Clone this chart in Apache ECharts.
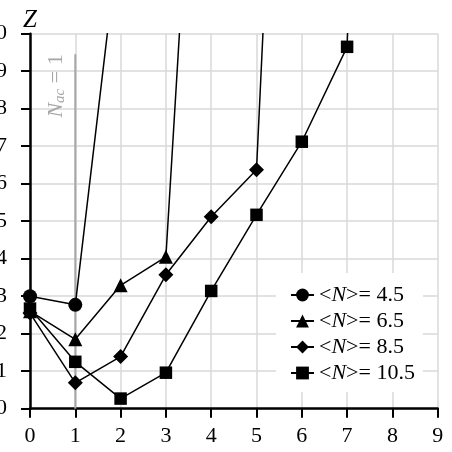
<!DOCTYPE html>
<html>
<head>
<meta charset="utf-8">
<script src="https://cdn.jsdelivr.net/npm/echarts@6/dist/echarts.min.js"></script>
<style>html,body{margin:0;padding:0;background:#fff}#c{width:452px;height:452px}</style>
</head>
<body>
<div id="c"></div>
<script>
// ---- data ----
const xTicks = [0,1,2,3,4,5,6,7,8,9];
const yTicks = [0,1,2,3,4,5,6,7,8,9,10];
const nLabels = ['4.5','6.5','8.5','10.5'];
const x45 = [0,1,2];
const z45 = [3.0, 2.77, 13.0];
const x65 = [0,1,2,3,4];
const z65 = [2.6, 1.85, 3.29, 4.05, 24];
const x85 = [0,1,2,3,4,5,6];
const z85 = [2.55, 0.69, 1.39, 3.57, 5.12, 6.37, 32];
const x105 = [0,1,2,3,4,5,6,7,8];
const z105 = [2.67, 1.25, 0.27, 0.96, 3.14, 5.17, 7.12, 9.65, 45];
const nacX = 1;
const nacTop = 9.45;

const FONT = "'Liberation Serif','Times New Roman',serif";
const pair = (xs, ys) => xs.map((x,i)=>[x, ys[i]]);
const names = nLabels.map(v => '<N>= ' + v);
const symbols = ['circle','triangle','diamond','rect'];
const symSizes = [14,14,15,12.5];
const sets = [[x45,z45],[x65,z65],[x85,z85],[x105,z105]];

const chart = echarts.init(document.getElementById('c'));
const series = [{
  name: 'nac', type: 'line', data: [[nacX,0],[nacX,nacTop]],
  symbol: 'none', lineStyle: {color:'#a6a6a6', width:2}, silent:true, z:1
}];
sets.forEach((s,i)=>{
  series.push({
    name: names[i], type:'line', data: pair(s[0], s[1]),
    symbol: symbols[i], symbolSize: symSizes[i], showAllSymbol:true,
    itemStyle:{color:'#000'}, lineStyle:{color:'#000', width:1.5},
    clip:true, z: 2+i
  });
});

chart.setOption({
  animation:false,
  backgroundColor:'#fff',
  grid:{left:30, right:14.3, top:33.7, bottom:43.3, containLabel:false, outerBoundsMode:'none'},
  xAxis:{type:'value', min:0, max:9, interval:1,
    axisLine:{lineStyle:{color:'#000', width:2.5}},
    axisTick:{show:true, length:9, lineStyle:{color:'#000', width:2}},
    axisLabel:{color:'#000', fontFamily:FONT, fontSize:22, margin:17},
    splitLine:{show:true, lineStyle:{color:'#d9d9d9', width:1.5}}},
  yAxis:{type:'value', min:0, max:10, interval:1,
    name:'Z', nameLocation:'end', nameGap:1,
    nameTextStyle:{color:'#000', fontFamily:FONT, fontSize:25, fontStyle:'italic', align:'left', padding:[0,0,0,-7]},
    axisLine:{show:true, lineStyle:{color:'#000', width:2.5}},
    axisTick:{show:true, length:9, lineStyle:{color:'#000', width:2}},
    axisLabel:{color:'#000', fontFamily:FONT, fontSize:22, margin:23},
    splitLine:{show:true, lineStyle:{color:'#d9d9d9', width:1.5}}},
  legend:{
    data: names, orient:'vertical', left:276, top:273,
    backgroundColor:'#fff', padding:[11,8,8,14], itemGap:4,
    itemWidth:23, itemHeight:16,
    formatter: n => '{t|<}{i|N}{t|>= ' + n.split('= ')[1] + '}',
    textStyle:{color:'#000', fontFamily:FONT, fontSize:22, lineHeight:22,
      rich:{t:{fontFamily:FONT, fontSize:22, color:'#000', lineHeight:22},
            i:{fontFamily:FONT, fontSize:22, fontStyle:'italic', color:'#000', lineHeight:22}}}
  },
  series: series
});

const p = chart.convertToPixel({gridIndex:0}, [nacX, nacTop]);
chart.setOption({graphic:[{
  type:'text', x: p[0]-19, y: p[1], rotation: Math.PI/2, silent:true,
  style:{
    text:'{n|N}{s|ac}{e| = 1}', align:'right', verticalAlign:'middle',
    fill:'#a6a6a6',
    rich:{
      n:{fontFamily:FONT, fontSize:22, fontStyle:'italic', fill:'#a6a6a6', verticalAlign:'middle'},
      s:{fontFamily:FONT, fontSize:15, fontStyle:'italic', fill:'#a6a6a6', verticalAlign:'bottom', padding:[8,0,0,0]},
      e:{fontFamily:FONT, fontSize:22, fill:'#a6a6a6', verticalAlign:'middle'}
    }
  }
}]});
</script>
</body>
</html>
